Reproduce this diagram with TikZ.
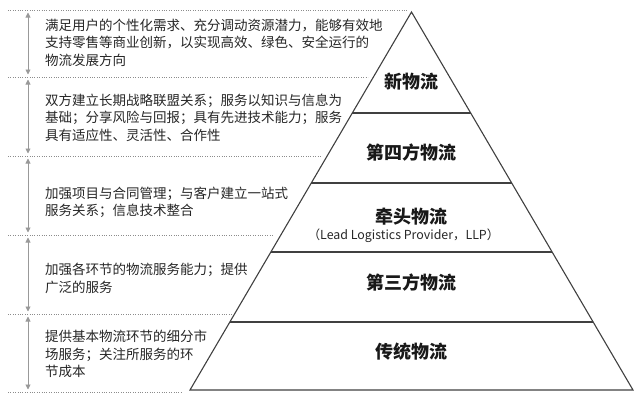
\documentclass[tikz,border=0pt]{standalone}
\usepackage{fontspec}
\setmainfont{Noto Sans CJK SC}
\usetikzlibrary{arrows.meta,calc}
\tikzset{
  pyr/.style={draw=black!75, line width=1.1pt},
  guide/.style={draw=black!45, line width=0.8pt, dash pattern=on 0.8pt off 1.6pt},
  span/.style={draw=black!40, line width=0.9pt, {Triangle[length=5pt,width=5pt]}-{Triangle[length=5pt,width=5pt]}},
  desc/.style={anchor=west, align=left, inner sep=0pt, text=black!85, font=\fontsize{13.5}{17.6}\selectfont},
  lvl/.style={font=\fontsize{18}{20}\selectfont\bfseries, text=black!90, inner sep=0pt}
}
\begin{document}
\begin{tikzpicture}[x=1pt,y=-1pt]
\useasboundingbox (0,0) rectangle (640,400);
% pyramid
\coordinate (A) at (411.5,12);
\coordinate (BL) at (190,390);
\coordinate (BR) at (633,390);
\draw[pyr] (BL) -- (A) -- (BR) -- cycle;
\foreach \n/\t in {1/0.2672,2/0.4524,3/0.6349,4/0.8201}{
  \coordinate (L\n) at ($(A)!\t!(BL)$);
  \coordinate (R\n) at ($(A)!\t!(BR)$);
  \draw[pyr] (L\n) -- (R\n);
}
% guide lines
\foreach \n/\y/\x in {0/10/408,1/77/368,2/156/322,3/235/273,4/314/233,5/392/183}{
  \coordinate (g\n) at (8,\y);
  \coordinate (h\n) at (\x,\y);
  \draw[guide] (g\n) -- (h\n);
  \coordinate (v\n) at (28,\y);
}
\foreach \a/\b in {0/1,1/2,2/3,3/4,4/5}{
  \draw[span] ($(v\a)+(0,2.5)$) -- ($(v\b)+(0,-2.5)$);
}
% descriptions
\node[desc] (d1) at (45,42.5) {满足用户的个性化需求、充分调动资源潜力，能够有效地\\支持零售等商业创新，以实现高效、绿色、安全运行的\\物流发展方向};
\node[desc] (d2) at (45,117.5) {双方建立长期战略联盟关系；服务以知识与信息为\\基础；分享风险与回报；具有先进技术能力；服务\\具有适应性、灵活性、合作性};
\node[desc] (d3) at (45,202.5) {加强项目与合同管理；与客户建立一站式\\服务关系；信息技术整合};
\node[desc] (d4) at (45,278.5) {加强各环节的物流服务能力；提供\\广泛的服务};
\node[desc] (d5) at (45,354) {提供基本物流环节的细分市\\场服务；关注所服务的环\\节成本};
% levels
\node[lvl] (n1) at (411.5,82) {新物流};
\node[lvl] (n2) at (411.5,153) {第四方物流};
\node[lvl] (n3) at (411.5,217) {牵头物流};
\node[inner sep=0pt, text=black!85, font=\fontsize{12.4}{14}\selectfont] (n3b) at (403.5,236) {（Lead Logistics Provider，LLP）};
\node[lvl] (n4) at (411.5,283) {第三方物流};
\node[lvl] (n5) at (411.5,352) {传统物流};
\end{tikzpicture}
\end{document}
